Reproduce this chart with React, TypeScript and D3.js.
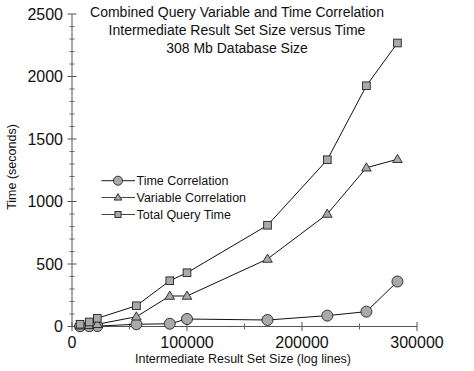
import React from "react";
import * as d3 from "d3";

const xValues = [7000, 15000, 22000, 56000, 85000, 100000, 170000, 222000, 256000, 283000];
const timeCorrelation = [2, 2, 3, 18, 22, 60, 52, 87, 119, 360];
const variableCorrelation = [6, 10, 18, 78, 244, 244, 540, 900, 1270, 1338];
const totalQueryTime = [18, 36, 66, 166, 366, 430, 810, 1334, 1926, 2268];
const seriesNames = ["Time Correlation", "Variable Correlation", "Total Query Time"];
const titleLines = [
  "Combined Query Variable and Time Correlation",
  "Intermediate Result Set Size versus Time",
  "308 Mb Database Size",
];
const xTickValues = [0, 100000, 200000, 300000];
const yTickValues = [0, 500, 1000, 1500, 2000, 2500];
const xLabel = "Intermediate Result Set Size (log lines)";
const yLabel = "Time (seconds)";

const FONT = "'Liberation Sans', Arial, Helvetica, sans-serif";
const FILL = "#a9a9a9";
const STROKE = "#222";

function Marker({ kind, x, y, s }: { kind: number; x: number; y: number; s: number }) {
  if (kind === 0) return <circle cx={x} cy={y} r={s} fill={FILL} stroke={STROKE} strokeWidth={0.9} />;
  if (kind === 1) {
    const h = s * 1.7;
    const w = s * 1.0;
    const pts = `${x},${y - h * 0.6} ${x - w},${y + h * 0.4} ${x + w},${y + h * 0.4}`;
    return <polygon points={pts} fill={FILL} stroke={STROKE} strokeWidth={0.9} />;
  }
  const a = s * 0.8;
  return <rect x={x - a} y={y - a} width={2 * a} height={2 * a} fill={FILL} stroke={STROKE} strokeWidth={0.9} />;
}

export default function App() {
  const W = 474, H = 371;
  const x = d3.scaleLinear().domain([0, 300000]).range([72, 417]);
  const y = d3.scaleLinear().domain([0, 2500]).range([326.5, 14]);
  const series = [timeCorrelation, variableCorrelation, totalQueryTime];
  const line = d3.line<number>().x((_, i) => x(xValues[i])).y((d) => y(d));
  const yMinor = d3.range(0, 2501, 100).filter((v) => v % 500 !== 0);
  const xMinor = d3.range(0, 300001, 50000).filter((v) => v % 100000 !== 0);
  const legendY = [180.7, 197.5, 214.5];

  return (
    <svg width={W} height={H} style={{ position: "absolute", left: 0, top: 0, background: "#fff" }} fontFamily={FONT}>
      <rect width={W} height={H} fill="#fff" />
      {/* axes */}
      <line x1={x(0)} x2={x(0)} y1={y(0)} y2={y(2500)} stroke="#555" strokeWidth={1} />
      <line x1={x(0)} x2={x(300000)} y1={y(0)} y2={y(0)} stroke="#555" strokeWidth={1} />
      {yTickValues.map((v) => (
        <g key={"yt" + v}>
          <line x1={x(0) - 4.5} x2={x(0) + 4.5} y1={y(v)} y2={y(v)} stroke="#555" />
          <text x={63} y={y(v)} dy="0.36em" textAnchor="end" fontSize={16} fill="#111">{v}</text>
        </g>
      ))}
      {yMinor.map((v) => (
        <line key={"ym" + v} x1={x(0) - 2.5} x2={x(0) + 2.5} y1={y(v)} y2={y(v)} stroke="#666" />
      ))}
      {xTickValues.map((v) => (
        <g key={"xt" + v}>
          <line x1={x(v)} x2={x(v)} y1={y(0) - 4.5} y2={y(0) + 4.5} stroke="#555" />
          <text x={x(v)} y={348} textAnchor="middle" fontSize={16} fill="#111">{v}</text>
        </g>
      ))}
      {xMinor.map((v) => (
        <line key={"xm" + v} x1={x(v)} x2={x(v)} y1={y(0) - 3} y2={y(0) + 3} stroke="#666" />
      ))}
      <text x={243} y={363} textAnchor="middle" fontSize={12.5} fill="#111">{xLabel}</text>
      <text transform={`translate(16,167) rotate(-90)`} textAnchor="middle" fontSize={12.5} fill="#111">{yLabel}</text>
      {/* title */}
      {titleLines.map((t, i) => (
        <text key={t} x={237} y={17 + i * 18} textAnchor="middle" fontSize={14} fill="#111">{t}</text>
      ))}
      {/* series */}
      {series.map((s, k) => (
        <g key={"s" + k}>
          <path d={line(s) || ""} fill="none" stroke="#111" strokeWidth={1} />
        </g>
      ))}
      {series.map((s, k) => (
        <g key={"m" + k}>
          {s.map((v, i) => (
            <Marker key={i} kind={k} x={x(xValues[i])} y={y(v)} s={k === 0 ? 5.5 : 4.8} />
          ))}
        </g>
      ))}
      {/* legend */}
      {seriesNames.map((n, k) => (
        <g key={n}>
          <line x1={101.5} x2={135} y1={legendY[k]} y2={legendY[k]} stroke="#444" strokeWidth={1.2} />
          <Marker kind={k} x={118} y={legendY[k]} s={k === 0 ? 4.5 : 3.8} />
          <text x={136.5} y={legendY[k]} dy="0.36em" fontSize={12.5} fill="#111">{n}</text>
        </g>
      ))}
    </svg>
  );
}
